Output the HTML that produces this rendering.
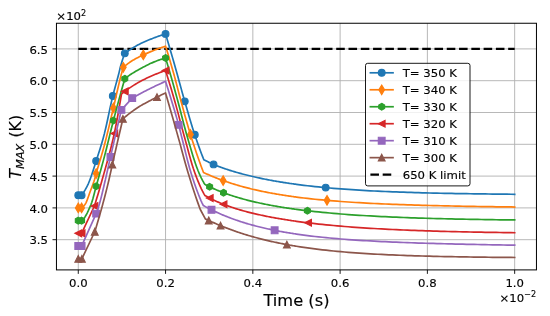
<!DOCTYPE html>
<html><head><meta charset="utf-8"><title>T MAX vs Time</title>
<style>html,body{margin:0;padding:0;background:#fff}svg{display:block}</style></head>
<body>
<svg width="550" height="316" viewBox="0 0 550 316" font-family="'DejaVu Sans', 'Liberation Sans', sans-serif" fill="#000"><style>text{stroke:#000;stroke-width:0.14px;paint-order:stroke}</style>
<rect width="550" height="316" fill="#fff"/>
<path d="M78.27 23.25V269.9M165.55 23.25V269.9M252.83 23.25V269.9M340.11 23.25V269.9M427.39 23.25V269.9M514.67 23.25V269.9M56.45 239.70H536.45M56.45 207.90H536.45M56.45 176.10H536.45M56.45 144.30H536.45M56.45 112.50H536.45M56.45 80.70H536.45M56.45 48.90H536.45" stroke="#b0b0b0" stroke-width="0.9" fill="none"/>
<clipPath id="c"><rect x="56.45" y="23.25" width="480.00000000000006" height="246.64999999999998"/></clipPath>
<g clip-path="url(#c)">
<path d="M78.27 48.90H514.67" stroke="#000" stroke-width="2.3175" stroke-dasharray="8.575 3.708" fill="none"/>
<path d="M78.27 195.18L81.59 195.18L82.72 193.74L83.86 192.05L85.00 190.17L86.13 188.13L87.20 186.10L87.27 185.96L88.41 183.53L89.55 180.77L89.85 180.00L90.68 177.79L91.82 174.55L92.96 171.13L94.09 167.58L95.23 163.98L96.16 161.03L96.37 160.38L97.50 156.83L98.64 153.28L99.78 149.68L100.91 145.99L102.05 142.16L103.19 138.15L104.10 134.76L104.33 133.91L105.46 129.28L106.60 124.28L107.74 119.03L108.87 113.66L110.01 108.30L111.15 103.08L112.28 98.13L112.80 96.00L113.42 93.54L114.56 89.25L115.69 85.13L116.83 81.02L117.97 76.82L118.70 74.00L119.11 72.34L120.24 67.55L120.65 66.00L121.38 63.44L122.52 59.68L123.65 56.28L124.79 53.35L125.92 52.53L127.05 51.73L128.19 50.94L129.32 50.17L130.45 49.42L131.58 48.69L132.72 47.98L133.85 47.28L134.98 46.61L136.11 45.96L137.24 45.33L138.19 44.83L138.38 44.73L139.51 44.15L140.64 43.58L141.77 43.04L142.91 42.50L144.04 41.99L145.17 41.48L146.30 40.99L147.43 40.51L148.57 40.04L149.70 39.58L150.83 39.13L150.89 39.11L151.96 38.68L153.10 38.24L154.23 37.80L155.36 37.37L156.49 36.95L157.62 36.54L158.76 36.13L159.89 35.74L161.02 35.35L162.15 34.97L163.29 34.60L164.42 34.24L165.55 33.89L166.68 37.67L167.80 41.47L168.93 45.29L170.05 49.14L171.18 53.00L172.30 56.89L173.43 60.80L174.56 64.74L174.63 64.99L175.68 68.72L176.81 72.75L177.93 76.83L179.06 80.94L180.18 85.04L181.31 89.14L182.43 93.20L183.56 97.20L184.69 101.14L184.75 101.37L185.81 105.04L186.94 108.94L188.06 112.83L189.19 116.68L190.31 120.49L191.44 124.24L192.57 127.90L193.69 131.46L194.79 134.82L194.82 134.91L195.94 138.26L197.07 141.55L198.19 144.76L199.32 147.90L200.45 150.96L201.57 153.95L202.70 156.86L203.82 159.69L204.86 160.26L205.90 160.81L206.95 161.35L207.99 161.86L209.03 162.37L210.07 162.85L211.11 163.33L212.15 163.79L213.19 164.24L214.23 164.68L215.27 165.11L216.31 165.53L217.36 165.94L218.40 166.34L219.44 166.73L220.48 167.12L221.52 167.50L222.56 167.88L223.60 168.24L224.64 168.60L225.68 168.96L226.72 169.31L227.76 169.65L228.81 169.99L229.85 170.32L230.89 170.65L231.93 170.97L232.97 171.29L234.01 171.60L235.05 171.91L236.09 172.21L237.13 172.51L238.17 172.81L239.22 173.10L240.26 173.39L241.30 173.67L242.34 173.95L243.38 174.22L244.42 174.50L245.46 174.76L246.50 175.03L247.54 175.29L248.58 175.55L249.63 175.80L250.67 176.05L251.71 176.30L252.75 176.54L253.79 176.78L254.83 177.02L255.87 177.25L256.91 177.49L257.95 177.71L258.99 177.94L260.04 178.16L261.08 178.38L262.12 178.60L263.16 178.81L264.20 179.02L265.24 179.23L266.28 179.44L267.32 179.64L268.36 179.84L269.40 180.04L270.45 180.23L271.49 180.42L272.53 180.61L273.57 180.80L274.61 180.98L275.65 181.17L276.69 181.35L277.73 181.52L278.77 181.70L279.81 181.87L280.86 182.04L281.90 182.21L282.94 182.38L283.98 182.54L285.02 182.70L286.06 182.86L287.10 183.02L288.14 183.18L289.18 183.33L290.22 183.48L291.27 183.63L292.31 183.78L293.35 183.93L294.39 184.07L295.43 184.21L296.47 184.35L300.17 184.84L303.87 185.30L307.56 185.74L311.26 186.16L314.96 186.56L318.66 186.94L322.36 187.31L326.06 187.66L329.75 187.99L333.45 188.31L337.15 188.61L340.85 188.90L344.55 189.17L348.25 189.44L351.94 189.69L355.64 189.93L359.34 190.16L363.04 190.38L366.74 190.59L370.44 190.79L374.13 190.98L377.83 191.16L381.53 191.33L385.23 191.50L388.93 191.65L392.63 191.80L396.32 191.95L400.02 192.08L403.72 192.22L407.42 192.34L411.12 192.46L414.82 192.57L418.51 192.68L422.21 192.79L425.91 192.88L429.61 192.98L433.31 193.07L437.01 193.16L440.70 193.24L444.40 193.32L448.10 193.39L451.80 193.46L455.50 193.53L459.20 193.59L462.89 193.66L466.59 193.72L470.29 193.77L473.99 193.83L477.69 193.88L481.39 193.93L485.08 193.97L488.78 194.02L492.48 194.06L496.18 194.10L499.88 194.14L503.58 194.18L507.27 194.21L510.97 194.25L514.67 194.28" stroke="#1f77b4" stroke-width="1.695" fill="none" stroke-linejoin="round" stroke-linecap="square"/>
<circle cx="78.27" cy="195.18" r="3.39" fill="#1f77b4" stroke="#1f77b4" stroke-width="1.13"/>
<circle cx="81.59" cy="195.18" r="3.39" fill="#1f77b4" stroke="#1f77b4" stroke-width="1.13"/>
<circle cx="96.16" cy="161.03" r="3.39" fill="#1f77b4" stroke="#1f77b4" stroke-width="1.13"/>
<circle cx="112.80" cy="96.00" r="3.39" fill="#1f77b4" stroke="#1f77b4" stroke-width="1.13"/>
<circle cx="124.79" cy="53.35" r="3.39" fill="#1f77b4" stroke="#1f77b4" stroke-width="1.13"/>
<circle cx="165.55" cy="33.89" r="3.39" fill="#1f77b4" stroke="#1f77b4" stroke-width="1.13"/>
<circle cx="184.75" cy="101.37" r="3.39" fill="#1f77b4" stroke="#1f77b4" stroke-width="1.13"/>
<circle cx="194.79" cy="134.82" r="3.39" fill="#1f77b4" stroke="#1f77b4" stroke-width="1.13"/>
<circle cx="213.55" cy="164.39" r="3.39" fill="#1f77b4" stroke="#1f77b4" stroke-width="1.13"/>
<circle cx="325.71" cy="187.62" r="3.39" fill="#1f77b4" stroke="#1f77b4" stroke-width="1.13"/>
<path d="M78.27 207.90L81.59 207.90L82.71 207.17L83.84 205.98L84.97 204.48L85.30 204.00L86.10 202.59L87.22 199.91L88.35 196.75L89.48 193.48L90.20 191.50L90.61 190.43L91.73 187.52L92.86 184.53L93.99 181.28L94.40 180.00L95.12 177.48L96.16 173.56L96.24 173.26L97.37 169.32L98.50 165.49L99.63 161.71L100.76 157.94L101.88 154.12L103.01 150.20L104.14 146.12L104.45 144.94L105.27 141.84L106.39 137.39L107.52 132.81L108.65 128.12L109.78 123.36L110.90 118.55L112.03 113.74L113.16 108.94L113.40 107.92L114.29 104.12L115.41 99.17L116.54 94.17L117.67 89.20L118.80 84.37L119.92 79.74L120.16 78.79L121.05 75.39L122.18 71.25L123.31 67.28L124.45 66.34L125.59 65.43L126.73 64.55L127.87 63.69L129.02 62.86L130.16 62.06L131.30 61.30L132.44 60.58L132.82 60.35L133.58 59.89L134.72 59.24L135.87 58.61L137.01 58.01L138.15 57.42L139.29 56.85L140.43 56.30L141.57 55.75L142.72 55.21L143.29 54.94L143.86 54.68L145.00 54.15L146.14 53.63L147.28 53.11L148.42 52.61L149.57 52.12L150.71 51.63L151.85 51.16L152.99 50.69L154.13 50.24L154.64 50.04L155.27 49.80L156.42 49.37L157.56 48.94L158.70 48.53L159.84 48.12L160.98 47.72L162.12 47.34L163.27 46.96L164.41 46.59L165.55 46.23L166.70 49.86L167.85 53.57L169.00 57.36L170.15 61.23L171.30 65.16L172.45 69.17L173.60 73.23L174.10 75.00L174.75 77.38L175.90 81.70L177.06 86.13L178.21 90.60L179.36 95.03L180.51 99.34L180.55 99.50L181.66 103.57L182.81 107.79L183.96 111.99L185.11 116.15L186.26 120.26L187.41 124.29L188.56 128.23L189.71 132.06L190.42 134.38L190.86 135.77L192.01 139.42L193.16 143.01L194.31 146.54L195.46 150.02L196.61 153.44L197.76 156.79L198.91 160.07L200.07 163.28L201.22 166.42L202.37 169.48L203.52 172.46L204.56 172.95L205.61 173.43L206.65 173.90L207.69 174.37L208.74 174.83L209.78 175.28L210.83 175.73L211.87 176.17L212.92 176.61L213.96 177.04L215.01 177.46L216.05 177.88L217.09 178.29L218.14 178.69L219.18 179.09L220.23 179.48L221.27 179.87L222.32 180.25L223.36 180.62L224.41 180.99L225.45 181.36L226.49 181.72L227.54 182.07L228.58 182.42L229.63 182.77L230.67 183.11L231.72 183.44L232.76 183.77L233.80 184.09L234.85 184.41L235.89 184.73L236.94 185.04L237.98 185.35L239.03 185.65L240.07 185.95L241.12 186.24L242.16 186.53L243.20 186.82L244.25 187.10L245.29 187.37L246.34 187.65L247.38 187.92L248.43 188.18L249.47 188.44L250.52 188.70L251.56 188.95L252.60 189.20L253.65 189.45L254.69 189.69L255.74 189.93L256.78 190.17L257.83 190.40L258.87 190.63L259.92 190.86L260.96 191.08L262.00 191.30L263.05 191.52L264.09 191.73L265.14 191.95L266.18 192.15L267.23 192.36L268.27 192.56L269.32 192.76L270.36 192.96L271.40 193.15L272.45 193.34L273.49 193.53L274.54 193.71L275.58 193.90L276.63 194.08L277.67 194.26L278.71 194.43L279.76 194.60L280.80 194.77L281.85 194.94L282.89 195.11L283.94 195.27L284.98 195.43L286.03 195.59L287.07 195.75L288.11 195.90L289.16 196.06L290.20 196.21L291.25 196.35L292.29 196.50L293.34 196.64L294.38 196.79L295.43 196.93L296.47 197.06L300.17 197.54L303.87 197.99L307.56 198.42L311.26 198.83L314.96 199.22L318.66 199.59L322.36 199.94L326.06 200.28L329.75 200.60L333.45 200.91L337.15 201.20L340.85 201.48L344.55 201.75L348.25 202.00L351.94 202.25L355.64 202.48L359.34 202.70L363.04 202.91L366.74 203.11L370.44 203.31L374.13 203.49L377.83 203.67L381.53 203.84L385.23 204.00L388.93 204.15L392.63 204.30L396.32 204.45L400.02 204.58L403.72 204.71L407.42 204.84L411.12 204.96L414.82 205.08L418.51 205.19L422.21 205.29L425.91 205.40L429.61 205.49L433.31 205.59L437.01 205.68L440.70 205.77L444.40 205.85L448.10 205.94L451.80 206.01L455.50 206.09L459.20 206.16L462.89 206.23L466.59 206.30L470.29 206.37L473.99 206.43L477.69 206.49L481.39 206.55L485.08 206.61L488.78 206.67L492.48 206.72L496.18 206.78L499.88 206.83L503.58 206.88L507.27 206.92L510.97 206.97L514.67 207.02" stroke="#ff7f0e" stroke-width="1.695" fill="none" stroke-linejoin="round" stroke-linecap="square"/>
<polygon points="78.27,203.11 81.15,207.90 78.27,212.69 75.39,207.90" fill="#ff7f0e" stroke="#ff7f0e" stroke-width="1.13" stroke-linejoin="miter"/>
<polygon points="81.59,203.11 84.46,207.90 81.59,212.69 78.71,207.90" fill="#ff7f0e" stroke="#ff7f0e" stroke-width="1.13" stroke-linejoin="miter"/>
<polygon points="96.16,168.76 99.04,173.56 96.16,178.35 93.29,173.56" fill="#ff7f0e" stroke="#ff7f0e" stroke-width="1.13" stroke-linejoin="miter"/>
<polygon points="113.40,103.13 116.28,107.92 113.40,112.71 110.52,107.92" fill="#ff7f0e" stroke="#ff7f0e" stroke-width="1.13" stroke-linejoin="miter"/>
<polygon points="123.31,62.49 126.18,67.28 123.31,72.07 120.43,67.28" fill="#ff7f0e" stroke="#ff7f0e" stroke-width="1.13" stroke-linejoin="miter"/>
<polygon points="143.29,50.15 146.17,54.94 143.29,59.74 140.42,54.94" fill="#ff7f0e" stroke="#ff7f0e" stroke-width="1.13" stroke-linejoin="miter"/>
<polygon points="190.42,129.58 193.30,134.38 190.42,139.17 187.55,134.38" fill="#ff7f0e" stroke="#ff7f0e" stroke-width="1.13" stroke-linejoin="miter"/>
<polygon points="223.15,175.76 226.03,180.55 223.15,185.34 220.28,180.55" fill="#ff7f0e" stroke="#ff7f0e" stroke-width="1.13" stroke-linejoin="miter"/>
<polygon points="327.02,195.57 329.89,200.37 327.02,205.16 324.14,200.37" fill="#ff7f0e" stroke="#ff7f0e" stroke-width="1.13" stroke-linejoin="miter"/>
<path d="M78.27 220.62L81.59 220.62L82.72 219.79L83.86 218.54L85.00 216.94L86.13 215.02L87.27 212.85L88.41 210.46L89.55 207.92L90.68 205.26L91.00 204.50L91.82 202.28L92.96 198.47L94.09 194.18L95.23 189.75L96.16 186.28L96.37 185.55L97.50 181.51L98.64 177.49L99.78 173.45L100.91 169.40L102.05 165.29L103.19 161.12L104.33 156.87L104.45 156.38L105.46 152.50L106.60 148.00L107.74 143.40L108.87 138.75L110.01 134.10L111.15 129.48L112.28 124.93L113.40 120.58L113.42 120.50L114.56 116.15L115.69 111.84L116.83 107.56L117.97 103.32L119.11 99.12L120.24 94.96L121.38 90.84L122.52 86.76L123.65 82.72L124.79 78.73L125.92 77.84L127.05 76.98L128.19 76.15L129.32 75.34L130.45 74.57L131.00 74.20L131.58 73.82L132.72 73.10L133.85 72.41L134.98 71.74L136.11 71.09L137.24 70.44L138.20 69.90L138.38 69.80L139.51 69.17L140.64 68.54L141.77 67.93L142.91 67.32L144.04 66.73L145.17 66.14L146.30 65.55L147.00 65.20L147.43 64.98L148.57 64.40L149.70 63.85L150.83 63.33L150.90 63.30L151.96 62.85L153.10 62.37L154.23 61.90L155.36 61.44L156.49 60.99L157.62 60.55L158.76 60.13L159.89 59.72L161.02 59.32L162.15 58.95L163.29 58.59L164.42 58.25L165.55 57.93L166.71 61.75L167.86 65.62L169.02 69.54L170.17 73.51L170.60 75.00L171.33 77.54L172.48 81.63L173.64 85.77L174.79 89.95L175.95 94.17L177.10 98.40L177.40 99.50L178.26 102.69L179.41 107.07L180.57 111.53L181.72 116.02L182.88 120.50L184.03 124.92L185.19 129.26L186.34 133.46L187.50 137.49L187.50 137.50L188.65 141.44L189.81 145.38L190.96 149.29L192.12 153.13L193.27 156.88L194.43 160.50L195.58 163.97L196.74 167.24L197.89 170.29L198.80 172.50L199.05 173.08L200.21 175.68L201.36 178.11L202.52 180.37L203.67 182.45L204.83 184.36L205.86 184.90L206.89 185.43L207.92 185.95L208.94 186.45L209.97 186.95L211.00 187.44L212.03 187.92L213.06 188.39L214.09 188.86L215.12 189.31L216.15 189.75L217.18 190.19L218.21 190.62L219.24 191.04L220.27 191.45L221.30 191.86L222.33 192.26L223.36 192.65L224.39 193.04L225.42 193.41L226.45 193.79L227.48 194.15L228.51 194.51L229.54 194.86L230.57 195.21L231.60 195.55L232.63 195.89L233.66 196.22L234.69 196.55L235.72 196.86L236.75 197.18L237.78 197.49L238.81 197.79L239.84 198.09L240.87 198.39L241.90 198.68L242.93 198.97L243.95 199.25L244.98 199.52L246.01 199.80L247.04 200.07L248.07 200.33L249.10 200.59L250.13 200.85L251.16 201.10L252.19 201.35L253.22 201.60L254.25 201.84L255.28 202.08L256.31 202.31L257.34 202.54L258.37 202.77L259.40 203.00L260.43 203.22L261.46 203.44L262.49 203.66L263.52 203.87L264.55 204.08L265.58 204.28L266.61 204.49L267.64 204.69L268.67 204.89L269.70 205.08L270.73 205.28L271.76 205.47L272.79 205.66L273.82 205.84L274.85 206.02L275.88 206.20L276.91 206.38L277.94 206.56L278.96 206.73L279.99 206.90L281.02 207.07L282.05 207.24L283.08 207.40L284.11 207.56L285.14 207.72L286.17 207.88L287.20 208.04L288.23 208.19L289.26 208.34L290.29 208.49L291.32 208.64L292.35 208.79L293.38 208.93L294.41 209.08L295.44 209.22L296.47 209.35L300.17 209.84L303.87 210.30L307.56 210.75L311.26 211.17L314.96 211.58L318.66 211.96L322.36 212.33L326.06 212.69L329.75 213.03L333.45 213.36L337.15 213.67L340.85 213.97L344.55 214.25L348.25 214.53L351.94 214.79L355.64 215.04L359.34 215.29L363.04 215.52L366.74 215.74L370.44 215.95L374.13 216.16L377.83 216.35L381.53 216.54L385.23 216.72L388.93 216.89L392.63 217.06L396.32 217.21L400.02 217.37L403.72 217.51L407.42 217.65L411.12 217.79L414.82 217.91L418.51 218.04L422.21 218.16L425.91 218.27L429.61 218.38L433.31 218.48L437.01 218.58L440.70 218.68L444.40 218.77L448.10 218.86L451.80 218.94L455.50 219.03L459.20 219.10L462.89 219.18L466.59 219.25L470.29 219.32L473.99 219.39L477.69 219.45L481.39 219.51L485.08 219.57L488.78 219.62L492.48 219.68L496.18 219.73L499.88 219.78L503.58 219.83L507.27 219.87L510.97 219.91L514.67 219.96" stroke="#2ca02c" stroke-width="1.695" fill="none" stroke-linejoin="round" stroke-linecap="square"/>
<polygon points="78.27,217.23 81.21,218.93 81.21,222.31 78.27,224.01 75.33,222.31 75.33,218.93" fill="#2ca02c" stroke="#2ca02c" stroke-width="1.13" stroke-linejoin="miter"/>
<polygon points="81.59,217.23 84.52,218.93 84.52,222.31 81.59,224.01 78.65,222.31 78.65,218.93" fill="#2ca02c" stroke="#2ca02c" stroke-width="1.13" stroke-linejoin="miter"/>
<polygon points="96.16,182.89 99.10,184.58 99.10,187.97 96.16,189.67 93.23,187.97 93.23,184.58" fill="#2ca02c" stroke="#2ca02c" stroke-width="1.13" stroke-linejoin="miter"/>
<polygon points="113.40,117.19 116.34,118.88 116.34,122.27 113.40,123.97 110.46,122.27 110.46,118.88" fill="#2ca02c" stroke="#2ca02c" stroke-width="1.13" stroke-linejoin="miter"/>
<polygon points="124.79,75.34 127.73,77.03 127.73,80.42 124.79,82.12 121.85,80.42 121.85,77.03" fill="#2ca02c" stroke="#2ca02c" stroke-width="1.13" stroke-linejoin="miter"/>
<polygon points="165.55,54.54 168.49,56.24 168.49,59.63 165.55,61.32 162.61,59.63 162.61,56.24" fill="#2ca02c" stroke="#2ca02c" stroke-width="1.13" stroke-linejoin="miter"/>
<polygon points="209.63,183.40 212.56,185.09 212.56,188.48 209.63,190.18 206.69,188.48 206.69,185.09" fill="#2ca02c" stroke="#2ca02c" stroke-width="1.13" stroke-linejoin="miter"/>
<polygon points="223.50,189.31 226.44,191.01 226.44,194.40 223.50,196.09 220.57,194.40 220.57,191.01" fill="#2ca02c" stroke="#2ca02c" stroke-width="1.13" stroke-linejoin="miter"/>
<polygon points="307.38,207.33 310.32,209.03 310.32,212.42 307.38,214.11 304.44,212.42 304.44,209.03" fill="#2ca02c" stroke="#2ca02c" stroke-width="1.13" stroke-linejoin="miter"/>
<path d="M78.27 233.34L81.59 233.34L94.42 205.99L95.59 202.18L96.77 198.32L97.95 194.39L99.12 190.40L100.30 186.35L101.48 182.22L102.10 180.00L102.65 178.04L103.83 173.87L105.00 169.72L106.18 165.54L107.36 161.30L108.53 156.98L109.71 152.53L110.89 147.92L112.06 143.13L113.24 138.11L114.27 133.49L114.42 132.83L115.59 127.18L116.77 121.14L117.94 114.75L119.12 108.06L120.30 101.15L121.47 94.06L122.60 93.11L123.73 92.20L124.79 91.38L124.86 91.33L125.99 90.50L127.12 89.69L128.25 88.90L129.38 88.12L130.51 87.36L131.65 86.61L132.78 85.88L133.91 85.16L135.04 84.46L136.17 83.78L137.30 83.12L138.19 82.61L138.43 82.47L139.56 81.84L140.69 81.23L141.82 80.62L142.95 80.03L144.08 79.46L145.21 78.89L146.34 78.34L147.47 77.81L148.60 77.28L149.73 76.76L150.86 76.26L150.89 76.25L151.99 75.77L153.12 75.28L154.25 74.80L155.38 74.33L156.51 73.87L157.64 73.42L158.77 72.97L159.90 72.54L161.03 72.11L162.16 71.70L163.29 71.30L164.42 70.90L165.55 70.52L166.71 74.18L167.86 77.88L169.02 81.64L170.17 85.45L171.33 89.31L172.48 93.23L173.64 97.20L174.30 99.50L174.79 101.22L175.95 105.36L177.10 109.60L178.26 113.90L179.41 118.24L180.57 122.60L181.72 126.94L182.88 131.24L184.03 135.46L184.60 137.50L185.19 139.62L186.34 143.85L187.50 148.13L188.65 152.41L189.81 156.63L190.96 160.73L192.12 164.65L193.27 168.34L194.43 171.75L194.70 172.50L195.58 174.89L196.74 177.93L197.89 180.86L199.05 183.66L200.21 186.33L201.36 188.85L202.52 191.21L203.67 193.40L204.83 195.42L205.86 196.01L206.89 196.59L207.92 197.15L208.94 197.70L209.97 198.24L211.00 198.77L212.03 199.28L213.06 199.78L214.09 200.27L215.12 200.75L216.15 201.22L217.18 201.68L218.21 202.13L219.24 202.57L220.27 203.00L221.30 203.43L222.33 203.84L223.36 204.25L224.39 204.65L225.42 205.04L226.45 205.42L227.48 205.79L228.51 206.16L229.54 206.53L230.57 206.88L231.60 207.23L232.63 207.57L233.66 207.91L234.69 208.24L235.72 208.57L236.75 208.89L237.78 209.20L238.81 209.51L239.84 209.82L240.87 210.12L241.90 210.41L242.93 210.70L243.95 210.98L244.98 211.27L246.01 211.54L247.04 211.81L248.07 212.08L249.10 212.35L250.13 212.61L251.16 212.86L252.19 213.12L253.22 213.37L254.25 213.61L255.28 213.85L256.31 214.09L257.34 214.33L258.37 214.56L259.40 214.79L260.43 215.01L261.46 215.23L262.49 215.45L263.52 215.67L264.55 215.88L265.58 216.09L266.61 216.30L267.64 216.51L268.67 216.71L269.70 216.91L270.73 217.11L271.76 217.30L272.79 217.49L273.82 217.68L274.85 217.87L275.88 218.05L276.91 218.24L277.94 218.42L278.96 218.60L279.99 218.77L281.02 218.94L282.05 219.12L283.08 219.28L284.11 219.45L285.14 219.62L286.17 219.78L287.20 219.94L288.23 220.10L289.26 220.26L290.29 220.41L291.32 220.57L292.35 220.72L293.38 220.87L294.41 221.02L295.44 221.16L296.47 221.31L300.17 221.81L303.87 222.29L307.56 222.76L311.26 223.20L314.96 223.63L318.66 224.04L322.36 224.43L326.06 224.81L329.75 225.17L333.45 225.51L337.15 225.85L340.85 226.17L344.55 226.47L348.25 226.77L351.94 227.05L355.64 227.32L359.34 227.58L363.04 227.83L366.74 228.07L370.44 228.30L374.13 228.52L377.83 228.73L381.53 228.94L385.23 229.13L388.93 229.32L392.63 229.50L396.32 229.68L400.02 229.84L403.72 230.00L407.42 230.16L411.12 230.30L414.82 230.44L418.51 230.58L422.21 230.71L425.91 230.84L429.61 230.96L433.31 231.07L437.01 231.18L440.70 231.29L444.40 231.39L448.10 231.49L451.80 231.59L455.50 231.68L459.20 231.76L462.89 231.85L466.59 231.93L470.29 232.01L473.99 232.08L477.69 232.15L481.39 232.22L485.08 232.28L488.78 232.35L492.48 232.41L496.18 232.47L499.88 232.52L503.58 232.58L507.27 232.63L510.97 232.68L514.67 232.72" stroke="#d62728" stroke-width="1.695" fill="none" stroke-linejoin="round" stroke-linecap="square"/>
<polygon points="74.88,233.34 81.66,229.95 81.66,236.73" fill="#d62728" stroke="#d62728" stroke-width="1.13" stroke-linejoin="miter"/>
<polygon points="78.20,233.34 84.98,229.95 84.98,236.73" fill="#d62728" stroke="#d62728" stroke-width="1.13" stroke-linejoin="miter"/>
<polygon points="91.03,205.99 97.81,202.60 97.81,209.38" fill="#d62728" stroke="#d62728" stroke-width="1.13" stroke-linejoin="miter"/>
<polygon points="110.88,133.49 117.66,130.10 117.66,136.88" fill="#d62728" stroke="#d62728" stroke-width="1.13" stroke-linejoin="miter"/>
<polygon points="121.40,91.38 128.18,87.99 128.18,94.77" fill="#d62728" stroke="#d62728" stroke-width="1.13" stroke-linejoin="miter"/>
<polygon points="162.16,70.52 168.94,67.13 168.94,73.91" fill="#d62728" stroke="#d62728" stroke-width="1.13" stroke-linejoin="miter"/>
<polygon points="206.32,198.11 213.10,194.72 213.10,201.50" fill="#d62728" stroke="#d62728" stroke-width="1.13" stroke-linejoin="miter"/>
<polygon points="220.11,204.30 226.89,200.91 226.89,207.69" fill="#d62728" stroke="#d62728" stroke-width="1.13" stroke-linejoin="miter"/>
<polygon points="304.64,222.82 311.42,219.43 311.42,226.21" fill="#d62728" stroke="#d62728" stroke-width="1.13" stroke-linejoin="miter"/>
<path d="M78.27 246.06L81.59 246.06L96.16 213.62L97.31 210.51L98.46 207.08L99.40 204.00L99.60 203.31L100.75 199.11L101.90 194.53L103.04 189.71L104.19 184.77L105.30 180.00L105.33 179.85L106.48 174.88L107.63 169.77L108.77 164.61L109.92 159.47L110.48 157.02L111.07 154.43L112.21 149.41L113.36 144.40L114.51 139.41L115.65 134.44L116.80 129.48L117.95 124.54L119.09 119.61L120.24 114.71L121.39 109.83L132.21 98.13L133.36 97.48L134.51 96.83L135.66 96.20L136.81 95.56L137.96 94.93L139.11 94.31L140.26 93.69L141.41 93.08L142.56 92.47L143.71 91.87L144.86 91.27L146.01 90.67L147.15 90.08L148.30 89.50L149.45 88.92L150.60 88.35L150.89 88.20L151.75 87.78L152.90 87.21L154.05 86.65L155.20 86.10L156.35 85.55L157.50 85.00L158.65 84.47L159.80 83.93L160.95 83.40L162.10 82.88L163.25 82.36L164.40 81.85L165.55 81.34L166.69 84.93L167.84 88.56L168.98 92.24L170.12 95.95L171.20 99.50L171.26 99.71L172.41 103.47L173.55 107.24L174.69 111.04L175.83 114.91L176.98 118.88L178.12 122.97L178.64 124.90L179.26 127.27L180.40 131.86L181.55 136.49L181.80 137.50L182.69 141.03L183.83 145.65L184.97 150.30L186.12 154.92L187.26 159.44L188.40 163.81L189.54 167.95L190.69 171.82L190.90 172.50L191.83 175.43L192.97 178.96L194.11 182.40L195.26 185.74L196.40 188.96L197.54 192.07L198.68 195.05L199.83 197.89L200.97 200.58L202.11 203.11L203.25 205.48L204.30 206.06L205.35 206.63L206.40 207.19L207.44 207.75L208.49 208.29L209.54 208.83L210.59 209.36L211.63 209.88L212.68 210.40L213.73 210.91L214.78 211.40L215.82 211.89L216.87 212.38L217.92 212.85L218.97 213.32L220.01 213.79L221.06 214.24L222.11 214.69L223.15 215.13L224.20 215.56L225.25 215.99L226.30 216.41L227.34 216.83L228.39 217.24L229.44 217.64L230.49 218.04L231.53 218.43L232.58 218.81L233.63 219.19L234.68 219.57L235.72 219.93L236.77 220.30L237.82 220.65L238.87 221.00L239.91 221.35L240.96 221.69L242.01 222.03L243.05 222.36L244.10 222.68L245.15 223.00L246.20 223.32L247.24 223.63L248.29 223.94L249.34 224.24L250.39 224.54L251.43 224.83L252.48 225.12L253.53 225.40L254.58 225.69L255.62 225.96L256.67 226.23L257.72 226.50L258.77 226.77L259.81 227.03L260.86 227.28L261.91 227.53L262.95 227.78L264.00 228.03L265.05 228.27L266.10 228.51L267.14 228.74L268.19 228.97L269.24 229.20L270.29 229.42L271.33 229.64L272.38 229.86L273.43 230.07L274.48 230.29L275.52 230.49L276.57 230.70L277.62 230.90L278.66 231.10L279.71 231.30L280.76 231.49L281.81 231.68L282.85 231.87L283.90 232.05L284.95 232.23L286.00 232.41L287.04 232.59L288.09 232.76L289.14 232.94L290.19 233.11L291.23 233.27L292.28 233.44L293.33 233.60L294.38 233.76L295.42 233.92L296.47 234.07L300.17 234.60L303.87 235.10L307.56 235.58L311.26 236.04L314.96 236.47L318.66 236.88L322.36 237.27L326.06 237.65L329.75 238.00L333.45 238.34L337.15 238.66L340.85 238.97L344.55 239.26L348.25 239.54L351.94 239.81L355.64 240.06L359.34 240.30L363.04 240.53L366.74 240.75L370.44 240.96L374.13 241.17L377.83 241.36L381.53 241.54L385.23 241.72L388.93 241.89L392.63 242.05L396.32 242.21L400.02 242.36L403.72 242.50L407.42 242.64L411.12 242.77L414.82 242.90L418.51 243.03L422.21 243.14L425.91 243.26L429.61 243.37L433.31 243.47L437.01 243.58L440.70 243.68L444.40 243.77L448.10 243.87L451.80 243.96L455.50 244.04L459.20 244.13L462.89 244.21L466.59 244.29L470.29 244.37L473.99 244.44L477.69 244.52L481.39 244.59L485.08 244.66L488.78 244.73L492.48 244.79L496.18 244.86L499.88 244.92L503.58 244.99L507.27 245.05L510.97 245.11L514.67 245.17" stroke="#9467bd" stroke-width="1.695" fill="none" stroke-linejoin="round" stroke-linecap="square"/>
<polygon points="74.88,242.67 81.66,242.67 81.66,249.45 74.88,249.45" fill="#9467bd" stroke="#9467bd" stroke-width="1.13" stroke-linejoin="miter"/>
<polygon points="78.20,242.67 84.98,242.67 84.98,249.45 78.20,249.45" fill="#9467bd" stroke="#9467bd" stroke-width="1.13" stroke-linejoin="miter"/>
<polygon points="92.77,210.23 99.55,210.23 99.55,217.01 92.77,217.01" fill="#9467bd" stroke="#9467bd" stroke-width="1.13" stroke-linejoin="miter"/>
<polygon points="107.09,153.63 113.87,153.63 113.87,160.41 107.09,160.41" fill="#9467bd" stroke="#9467bd" stroke-width="1.13" stroke-linejoin="miter"/>
<polygon points="118.00,106.44 124.78,106.44 124.78,113.22 118.00,113.22" fill="#9467bd" stroke="#9467bd" stroke-width="1.13" stroke-linejoin="miter"/>
<polygon points="128.82,94.74 135.60,94.74 135.60,101.52 128.82,101.52" fill="#9467bd" stroke="#9467bd" stroke-width="1.13" stroke-linejoin="miter"/>
<polygon points="175.25,121.51 182.03,121.51 182.03,128.29 175.25,128.29" fill="#9467bd" stroke="#9467bd" stroke-width="1.13" stroke-linejoin="miter"/>
<polygon points="208.11,206.43 214.89,206.43 214.89,213.21 208.11,213.21" fill="#9467bd" stroke="#9467bd" stroke-width="1.13" stroke-linejoin="miter"/>
<polygon points="271.26,226.93 278.04,226.93 278.04,233.71 271.26,233.71" fill="#9467bd" stroke="#9467bd" stroke-width="1.13" stroke-linejoin="miter"/>
<path d="M78.27 258.78L81.89 258.78L94.77 231.75L95.94 227.97L97.11 224.08L98.28 220.10L99.46 216.04L100.63 211.88L101.80 207.65L102.80 204.00L102.98 203.35L104.15 198.96L105.32 194.47L106.49 189.86L107.67 185.13L108.84 180.25L108.90 180.00L110.01 175.11L111.19 169.74L112.31 164.65L112.36 164.43L113.53 159.26L114.70 154.10L115.88 148.97L117.05 143.87L118.22 138.79L119.40 133.75L120.57 128.75L121.74 123.78L122.91 118.86L124.04 117.89L125.16 116.94L126.28 116.00L127.40 115.09L128.52 114.20L129.65 113.32L130.77 112.47L131.89 111.63L133.01 110.81L134.13 110.01L135.26 109.23L136.38 108.47L137.50 107.73L138.19 107.28L138.62 107.01L139.74 106.31L140.87 105.64L141.99 104.99L143.11 104.36L144.23 103.75L145.35 103.14L146.48 102.53L147.09 102.20L147.60 101.92L148.72 101.33L149.84 100.74L150.96 100.16L152.09 99.58L153.21 99.01L154.33 98.45L155.45 97.88L156.57 97.32L157.00 97.11L157.70 96.76L158.82 96.20L159.94 95.64L161.06 95.09L162.18 94.54L163.31 93.99L164.43 93.45L165.55 92.91L166.71 96.90L167.87 100.90L169.03 104.91L170.18 108.93L171.34 112.97L172.50 117.03L173.66 121.09L174.82 125.17L175.98 129.26L177.13 133.36L178.29 137.47L178.30 137.50L179.45 141.64L180.61 145.89L181.77 150.18L182.93 154.48L184.08 158.76L185.24 162.96L186.40 167.07L187.56 171.03L188.00 172.50L188.72 174.85L189.88 178.60L191.03 182.30L192.19 185.94L193.35 189.52L194.51 193.03L195.67 196.48L196.83 199.85L197.98 203.14L199.14 206.36L200.30 209.50L205.35 218.91L206.37 219.39L207.40 219.87L208.42 220.35L209.44 220.82L210.47 221.28L211.49 221.74L212.52 222.20L213.54 222.65L214.56 223.10L215.59 223.55L216.61 223.99L217.64 224.42L218.66 224.85L219.68 225.28L220.71 225.70L221.73 226.11L222.75 226.53L223.78 226.93L224.80 227.34L225.83 227.74L226.85 228.13L227.87 228.52L228.90 228.91L229.92 229.29L230.95 229.67L231.97 230.04L232.99 230.41L234.02 230.77L235.04 231.13L236.06 231.49L237.09 231.84L238.11 232.19L239.14 232.53L240.16 232.87L241.18 233.21L242.21 233.54L243.23 233.86L244.25 234.19L245.28 234.51L246.30 234.82L247.33 235.14L248.35 235.44L249.37 235.75L250.40 236.05L251.42 236.35L252.45 236.64L253.47 236.93L254.49 237.21L255.52 237.50L256.54 237.78L257.56 238.05L258.59 238.32L259.61 238.59L260.64 238.86L261.66 239.12L262.68 239.38L263.71 239.63L264.73 239.88L265.76 240.13L266.78 240.38L267.80 240.62L268.83 240.86L269.85 241.10L270.87 241.33L271.90 241.56L272.92 241.79L273.95 242.01L274.97 242.23L275.99 242.45L277.02 242.66L278.04 242.88L279.06 243.09L280.09 243.29L281.11 243.50L282.14 243.70L283.16 243.90L284.18 244.09L285.21 244.29L286.23 244.48L287.26 244.67L288.28 244.85L289.30 245.04L290.33 245.22L291.35 245.40L292.37 245.57L293.40 245.75L294.42 245.92L295.45 246.09L296.47 246.25L300.17 246.84L303.87 247.39L307.56 247.92L311.26 248.43L314.96 248.91L318.66 249.36L322.36 249.80L326.06 250.21L329.75 250.60L333.45 250.97L337.15 251.33L340.85 251.66L344.55 251.99L348.25 252.29L351.94 252.58L355.64 252.85L359.34 253.12L363.04 253.36L366.74 253.60L370.44 253.82L374.13 254.04L377.83 254.24L381.53 254.43L385.23 254.62L388.93 254.79L392.63 254.95L396.32 255.11L400.02 255.26L403.72 255.40L407.42 255.53L411.12 255.66L414.82 255.78L418.51 255.90L422.21 256.01L425.91 256.11L429.61 256.21L433.31 256.30L437.01 256.39L440.70 256.48L444.40 256.56L448.10 256.63L451.80 256.70L455.50 256.77L459.20 256.84L462.89 256.90L466.59 256.96L470.29 257.01L473.99 257.07L477.69 257.12L481.39 257.17L485.08 257.21L488.78 257.25L492.48 257.29L496.18 257.33L499.88 257.37L503.58 257.41L507.27 257.44L510.97 257.47L514.67 257.50" stroke="#8c564b" stroke-width="1.695" fill="none" stroke-linejoin="round" stroke-linecap="square"/>
<polygon points="78.27,255.39 81.66,262.17 74.88,262.17" fill="#8c564b" stroke="#8c564b" stroke-width="1.13" stroke-linejoin="miter"/>
<polygon points="81.89,255.39 85.28,262.17 78.50,262.17" fill="#8c564b" stroke="#8c564b" stroke-width="1.13" stroke-linejoin="miter"/>
<polygon points="94.77,228.36 98.16,235.14 91.38,235.14" fill="#8c564b" stroke="#8c564b" stroke-width="1.13" stroke-linejoin="miter"/>
<polygon points="112.31,161.26 115.70,168.04 108.92,168.04" fill="#8c564b" stroke="#8c564b" stroke-width="1.13" stroke-linejoin="miter"/>
<polygon points="122.91,115.47 126.30,122.25 119.52,122.25" fill="#8c564b" stroke="#8c564b" stroke-width="1.13" stroke-linejoin="miter"/>
<polygon points="157.00,93.72 160.39,100.50 153.61,100.50" fill="#8c564b" stroke="#8c564b" stroke-width="1.13" stroke-linejoin="miter"/>
<polygon points="208.75,217.11 212.14,223.89 205.36,223.89" fill="#8c564b" stroke="#8c564b" stroke-width="1.13" stroke-linejoin="miter"/>
<polygon points="220.54,222.24 223.93,229.02 217.15,229.02" fill="#8c564b" stroke="#8c564b" stroke-width="1.13" stroke-linejoin="miter"/>
<polygon points="286.87,241.21 290.26,247.99 283.48,247.99" fill="#8c564b" stroke="#8c564b" stroke-width="1.13" stroke-linejoin="miter"/>
</g>
<path d="M78.27 269.9v3.96M165.55 269.9v3.96M252.83 269.9v3.96M340.11 269.9v3.96M427.39 269.9v3.96M514.67 269.9v3.96M56.45 239.70h-3.96M56.45 207.90h-3.96M56.45 176.10h-3.96M56.45 144.30h-3.96M56.45 112.50h-3.96M56.45 80.70h-3.96M56.45 48.90h-3.96" stroke="#000" stroke-width="0.9" fill="none"/>
<rect x="56.45" y="23.25" width="480.00000000000006" height="246.64999999999998" fill="none" stroke="#000" stroke-width="1.0"/>
<text transform="translate(78.27 286.90) scale(1.035 1)" font-size="11.3" text-anchor="middle" xml:space="preserve">0.0</text>
<text transform="translate(165.55 286.90) scale(1.035 1)" font-size="11.3" text-anchor="middle" xml:space="preserve">0.2</text>
<text transform="translate(252.83 286.90) scale(1.035 1)" font-size="11.3" text-anchor="middle" xml:space="preserve">0.4</text>
<text transform="translate(340.11 286.90) scale(1.035 1)" font-size="11.3" text-anchor="middle" xml:space="preserve">0.6</text>
<text transform="translate(427.39 286.90) scale(1.035 1)" font-size="11.3" text-anchor="middle" xml:space="preserve">0.8</text>
<text transform="translate(514.67 286.90) scale(1.035 1)" font-size="11.3" text-anchor="middle" xml:space="preserve">1.0</text>
<text transform="translate(48.00 244.30) scale(1.035 1)" font-size="11.3" text-anchor="end" xml:space="preserve">3.5</text>
<text transform="translate(48.00 212.50) scale(1.035 1)" font-size="11.3" text-anchor="end" xml:space="preserve">4.0</text>
<text transform="translate(48.00 180.70) scale(1.035 1)" font-size="11.3" text-anchor="end" xml:space="preserve">4.5</text>
<text transform="translate(48.00 148.90) scale(1.035 1)" font-size="11.3" text-anchor="end" xml:space="preserve">5.0</text>
<text transform="translate(48.00 117.10) scale(1.035 1)" font-size="11.3" text-anchor="end" xml:space="preserve">5.5</text>
<text transform="translate(48.00 85.30) scale(1.035 1)" font-size="11.3" text-anchor="end" xml:space="preserve">6.0</text>
<text transform="translate(48.00 53.50) scale(1.035 1)" font-size="11.3" text-anchor="end" xml:space="preserve">6.5</text>
<text transform="translate(56.35 19.70) scale(1.035 1)" font-size="11.3" text-anchor="start" xml:space="preserve">×10<tspan font-size="7.9" dy="-3.5">2</tspan></text>
<text transform="translate(536.15 301.50) scale(1.035 1)" font-size="11.3" text-anchor="end" xml:space="preserve">×10<tspan font-size="7.9" dy="-4.4">−2</tspan></text>
<text transform="translate(296.45 306.30) scale(1.03 1)" font-size="15.8" text-anchor="middle" xml:space="preserve">Time (s)</text>
<text transform="translate(21.4 146.77) rotate(-90)" font-size="15.8" text-anchor="middle"><tspan font-style="italic">T</tspan><tspan font-style="italic" font-size="11.3" dy="2.3">MAX</tspan><tspan dy="-2.3" dx="1.2"> (K)</tspan></text>
<rect x="365.5" y="63.3" width="104.5" height="122.6" rx="2.2" fill="#fff" fill-opacity="0.8" stroke="#000" stroke-opacity="0.9" stroke-width="1.0"/>
<path d="M370.4 72.80H393.0" stroke="#1f77b4" stroke-width="1.695" stroke-linecap="square"/>
<circle cx="381.70" cy="72.80" r="3.39" fill="#1f77b4" stroke="#1f77b4" stroke-width="1.13"/>
<text transform="translate(402.70 76.70) scale(1.035 1)" font-size="11.3" text-anchor="start" xml:space="preserve">T= 350 K</text>
<path d="M370.4 89.77H393.0" stroke="#ff7f0e" stroke-width="1.695" stroke-linecap="square"/>
<polygon points="381.70,84.98 384.58,89.77 381.70,94.56 378.82,89.77" fill="#ff7f0e" stroke="#ff7f0e" stroke-width="1.13" stroke-linejoin="miter"/>
<text transform="translate(402.70 93.67) scale(1.035 1)" font-size="11.3" text-anchor="start" xml:space="preserve">T= 340 K</text>
<path d="M370.4 106.74H393.0" stroke="#2ca02c" stroke-width="1.695" stroke-linecap="square"/>
<polygon points="381.70,103.35 384.64,105.04 384.64,108.43 381.70,110.13 378.76,108.44 378.76,105.05" fill="#2ca02c" stroke="#2ca02c" stroke-width="1.13" stroke-linejoin="miter"/>
<text transform="translate(402.70 110.64) scale(1.035 1)" font-size="11.3" text-anchor="start" xml:space="preserve">T= 330 K</text>
<path d="M370.4 123.71H393.0" stroke="#d62728" stroke-width="1.695" stroke-linecap="square"/>
<polygon points="378.31,123.71 385.09,120.32 385.09,127.10" fill="#d62728" stroke="#d62728" stroke-width="1.13" stroke-linejoin="miter"/>
<text transform="translate(402.70 127.61) scale(1.035 1)" font-size="11.3" text-anchor="start" xml:space="preserve">T= 320 K</text>
<path d="M370.4 140.68H393.0" stroke="#9467bd" stroke-width="1.695" stroke-linecap="square"/>
<polygon points="378.31,137.29 385.09,137.29 385.09,144.07 378.31,144.07" fill="#9467bd" stroke="#9467bd" stroke-width="1.13" stroke-linejoin="miter"/>
<text transform="translate(402.70 144.58) scale(1.035 1)" font-size="11.3" text-anchor="start" xml:space="preserve">T= 310 K</text>
<path d="M370.4 157.65H393.0" stroke="#8c564b" stroke-width="1.695" stroke-linecap="square"/>
<polygon points="381.70,154.26 385.09,161.04 378.31,161.04" fill="#8c564b" stroke="#8c564b" stroke-width="1.13" stroke-linejoin="miter"/>
<text transform="translate(402.70 161.55) scale(1.035 1)" font-size="11.3" text-anchor="start" xml:space="preserve">T= 300 K</text>
<path d="M370.4 174.62H393.0" stroke="#000" stroke-width="2.3175" stroke-dasharray="8.575 3.708"/>
<text transform="translate(402.70 178.52) scale(1.035 1)" font-size="11.3" text-anchor="start" xml:space="preserve">650 K limit</text>
</svg>
</body></html>
